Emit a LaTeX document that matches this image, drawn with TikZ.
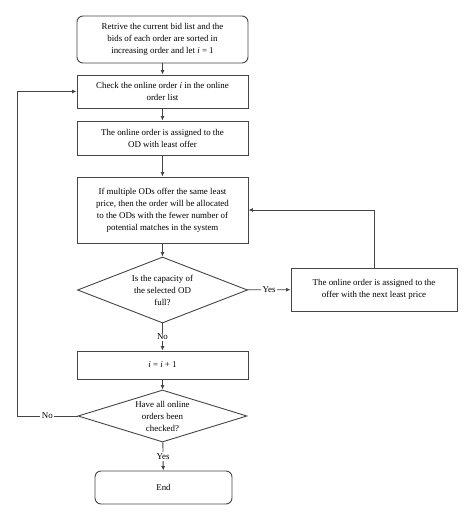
\documentclass[tikz,border=0pt]{standalone}
\usepackage{fontspec}
\setmainfont{Liberation Serif}
\usepackage{tikz}
\usetikzlibrary{arrows.meta, positioning, shapes.geometric}
\definecolor{fLine}{HTML}{454545}

\begin{document}
\begin{tikzpicture}[x=1pt, y=-1pt,
      box/.style={draw=fLine, line width=0.9pt, minimum width=171pt, inner sep=1pt,
                  align=center, font=\fontsize{8.9}{12}\selectfont},
      rbox/.style={box, rounded corners=6pt},
      dec/.style={draw=fLine, line width=0.9pt, diamond, inner sep=0pt, aspect=2.6,
                  align=center, font=\fontsize{8.9}{12}\selectfont},
      lbl/.style={fill=white, inner sep=1.5pt, font=\fontsize{8.9}{10}\selectfont},
      arr/.style={draw=fLine, line width=0.9pt, -{Latex[length=4.5pt, width=4pt]}}]
    \useasboundingbox (0,0) rectangle (474,521);
    \node[rbox, minimum height=47pt] (start) at (162.5,39.5)
      {Retrive the current bid list and the\\ bids of each order are sorted in\\ increasing order and let \textit{i} = 1};
    \node[box, minimum height=33pt] (check) at (162.5,91.5)
      {Check the online order \textit{i} in the online\\ order list};
    \node[box, minimum height=34pt] (assign) at (162.5,138)
      {The online order is assigned to the\\ OD with least offer};
    \node[box, minimum height=66pt] (multi) at (162.5,210)
      {If multiple ODs offer the same least\\ price, then the order will be allocated\\ to the ODs with the fewer number of\\ potential matches in the system};
    \node[dec, minimum width=170pt, minimum height=66pt] (full) at (162.5,290)
      {Is the capacity of\\ the selected OD\\ full?};
    \node[box, minimum width=166pt, minimum height=43pt] (next) at (374,289.5)
      {The online order is assigned to the\\ offer with the next least price};
    \node[box, minimum height=28pt] (incr) at (162.5,365) {\textit{i} = \textit{i} + 1};
    \node[dec, minimum width=169pt, minimum height=52pt] (all) at (162.5,416)
      {Have all online\\ orders been\\ checked?};
    \node[rbox, minimum width=137pt, minimum height=33pt] (endn) at (163.5,487.5) {End};
    \coordinate (back) at (17,416);

    \foreach \a/\b in {start/check, check/assign, assign/multi, multi/full, incr/all}
      \draw[arr] (\a) -- (\b);
    \draw[arr] (full) -- node[lbl] {Yes} (next);
    \draw[arr] (next.north) |- (multi.east);
    \draw[arr] (full) -- node[lbl] {No} (incr);
    \draw[arr] (all) -- node[lbl] {No} (back) |- (check.west);
    \draw[arr] (all) -- node[lbl] {Yes} (endn);
  \end{tikzpicture}
\end{document}
